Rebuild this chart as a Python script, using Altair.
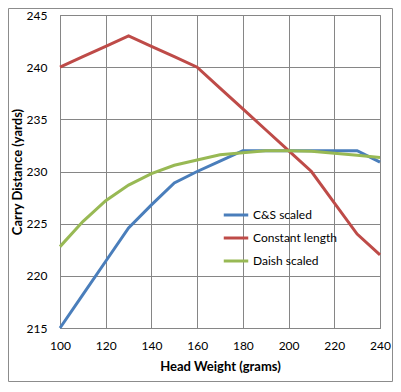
import altair as alt
import pandas as pd

weights = [100, 110, 120, 130, 140, 150, 160, 170, 180, 190, 200, 210, 220, 230, 240]
cs_scaled = [215, 218.2, 221.4, 224.6, 226.8, 228.9, 230, 231, 232, 232, 232, 232, 232, 232, 230.9]
constant_length = [240, 241, 242, 243, 242, 241, 240, 238, 236, 234, 232, 230, 227, 224, 222]
daish_scaled = [222.8, 225.2, 227.2, 228.7, 229.8, 230.6, 231.1, 231.6, 231.8, 232, 232, 231.95, 231.75, 231.55, 231.35]

series_names = ["C&S scaled", "Constant length", "Daish scaled"]
series_colors = ["#4A7EBB", "#BE4B48", "#98B954"]

rows = []
for name, vals in zip(series_names, [cs_scaled, constant_length, daish_scaled]):
    for w, v in zip(weights, vals):
        rows.append({"weight": w, "carry": v, "series": name})
df = pd.DataFrame(rows)

FONT = "Lato"
GRID = "#868686"

lines = alt.Chart(df).mark_line(strokeWidth=3).encode(
    x=alt.X("weight:Q",
            scale=alt.Scale(domain=[100, 240], nice=False, zero=False),
            axis=alt.Axis(values=[100, 120, 140, 160, 180, 200, 220, 240],
                          title="Head Weight (grams)", titleFont=FONT, titleFontSize=13,
                          titleFontWeight="bold", titleColor="#000000",
                          titleY=38, titleBaseline="middle",
                          labelFont=FONT, labelFontSize=12, labelColor="#000000",
                          labelPadding=12, labelFlush=False, labelOverlap=False,
                          tickSize=0, domainColor=GRID,
                          grid=True, gridColor=GRID, gridOpacity=1)),
    y=alt.Y("carry:Q",
            scale=alt.Scale(domain=[215, 245], nice=False, zero=False),
            axis=alt.Axis(values=[215, 220, 225, 230, 235, 240, 245],
                          title="Carry Distance (yards)", titleFont=FONT, titleFontSize=13,
                          titleFontWeight="bold", titleColor="#000000",
                          titleX=-43, titleY=156.5, titleAngle=270,
                          titleAlign="center", titleBaseline="middle",
                          labelFont=FONT, labelFontSize=12, labelColor="#000000",
                          labelPadding=13, labelFlush=False, labelOverlap=False,
                          tickSize=0, domainColor=GRID,
                          grid=True, gridColor=GRID, gridOpacity=1)),
    color=alt.Color("series:N",
                    scale=alt.Scale(domain=series_names, range=series_colors),
                    sort=series_names,
                    legend=alt.Legend(title=None, orient="none", legendX=162, legendY=186,
                                      symbolType="stroke", symbolSize=600,
                                      symbolStrokeWidth=3, labelFont=FONT,
                                      labelFontSize=12, labelColor="#000000",
                                      labelOffset=3, rowPadding=3)),
    order=alt.Order("series:N"),
)

border = alt.Chart(pd.DataFrame({"a": [0]})).mark_rect(
    fill=None, stroke="#8C8C8C", strokeWidth=1
).encode(
    x=alt.value(-51.5), x2=alt.value(332.5), y=alt.value(-6.5), y2=alt.value(366.5)
)

chart = alt.layer(border, lines).properties(
    width=320, height=313,
    autosize=alt.AutoSizeParams(type="none"),
    padding={"left": 52, "top": 7, "right": 13, "bottom": 54},
    background="#FFFFFF",
).configure_view(stroke=GRID, strokeWidth=1)

chart.save("out.html", embed_options={"renderer": "svg", "actions": False})
